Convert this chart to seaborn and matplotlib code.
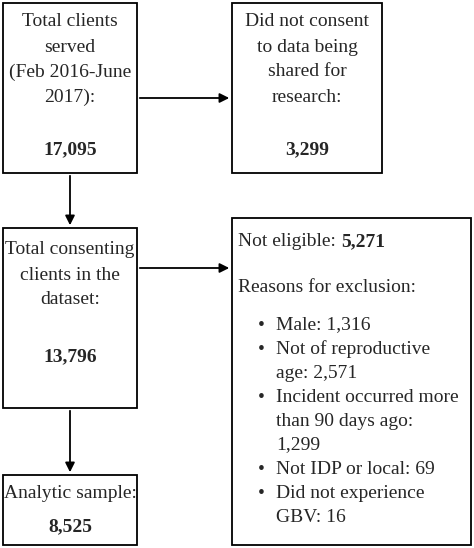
import matplotlib
matplotlib.use("Agg")
import matplotlib.pyplot as plt
import seaborn as sns
from matplotlib.patches import Rectangle

sns.set_style("white")
plt.rcParams["font.family"] = ["Liberation Serif", "DejaVu Serif"]

# box texts and counts
box_titles = [
    "Total clients\nserved\n(Feb 2016-June\n2017):",
    "Did not consent\nto data being\nshared for\nresearch:",
    "Total consenting\nclients in the\ndataset:",
    "Analytic sample:",
]
box_counts = ["17,095", "3,299", "13,796", "8,525"]
excluded_total = "5,271"
exclusion_reasons = [
    "Male: 1,316",
    "Not of reproductive\nage: 2,571",
    "Incident occurred more\nthan 90 days ago:\n1,299",
    "Not IDP or local: 69",
    "Did not experience\nGBV: 16",
]

# box geometry in pixel coordinates (x0, y0, x1, y1), first-line y, count y
boxes = [(3, 3, 137, 173), (232, 3, 382, 173), (3, 228, 137, 408), (3, 475, 137, 545)]
first_line = [22, 22, 250, 493]
count_y = [150, 150, 357, 527]
ex_box = (232, 218, 471, 545)

fig = plt.figure(figsize=(4.74, 5.48), dpi=100)
ax = fig.add_axes([0, 0, 1, 1])
ax.set_xlim(0, 474)
ax.set_ylim(548, 0)
ax.axis("off")

fs = 14
for (x0, y0, x1, y1), title, count, fy, cy in zip(boxes, box_titles, box_counts, first_line, count_y):
    ax.add_patch(Rectangle((x0, y0), x1 - x0, y1 - y0, fill=False, lw=1.3, ec="black"))
    cx = (x0 + x1) / 2
    for i, line in enumerate(title.split("\n")):
        ax.text(cx, fy + 25 * i, line, ha="center", va="center", fontsize=fs)
    ax.text(cx, cy, count, ha="center", va="center", fontsize=fs, fontweight="bold")

x0, y0, x1, y1 = ex_box
ax.add_patch(Rectangle((x0, y0), x1 - x0, y1 - y0, fill=False, lw=1.3, ec="black"))
t = ax.text(x0 + 6, 242, "Not eligible: ", ha="left", va="center", fontsize=fs)
ax.annotate(excluded_total, xycoords=t, xy=(1, 0.5), va="center", fontsize=fs,
            fontweight="bold", textcoords="offset points", xytext=(0, 0))
ax.text(x0 + 6, 288, "Reasons for exclusion:", ha="left", va="center", fontsize=fs)
y = 325
for reason in exclusion_reasons:
    ax.text(x0 + 26, y, "\u2022", ha="left", va="center", fontsize=fs)
    for line in reason.split("\n"):
        ax.text(x0 + 44, y, line, ha="left", va="center", fontsize=fs)
        y += 24

arrows = [((137, 98), (232, 98)), ((70, 173), (70, 228)),
          ((137, 268), (232, 268)), ((70, 408), (70, 475))]
for (sx, sy), (ex, ey) in arrows:
    ax.annotate("", xy=(ex, ey), xytext=(sx, sy),
                arrowprops=dict(arrowstyle="-|>", color="black", lw=1.3, mutation_scale=14))

fig.savefig("out.png", dpi=100)
